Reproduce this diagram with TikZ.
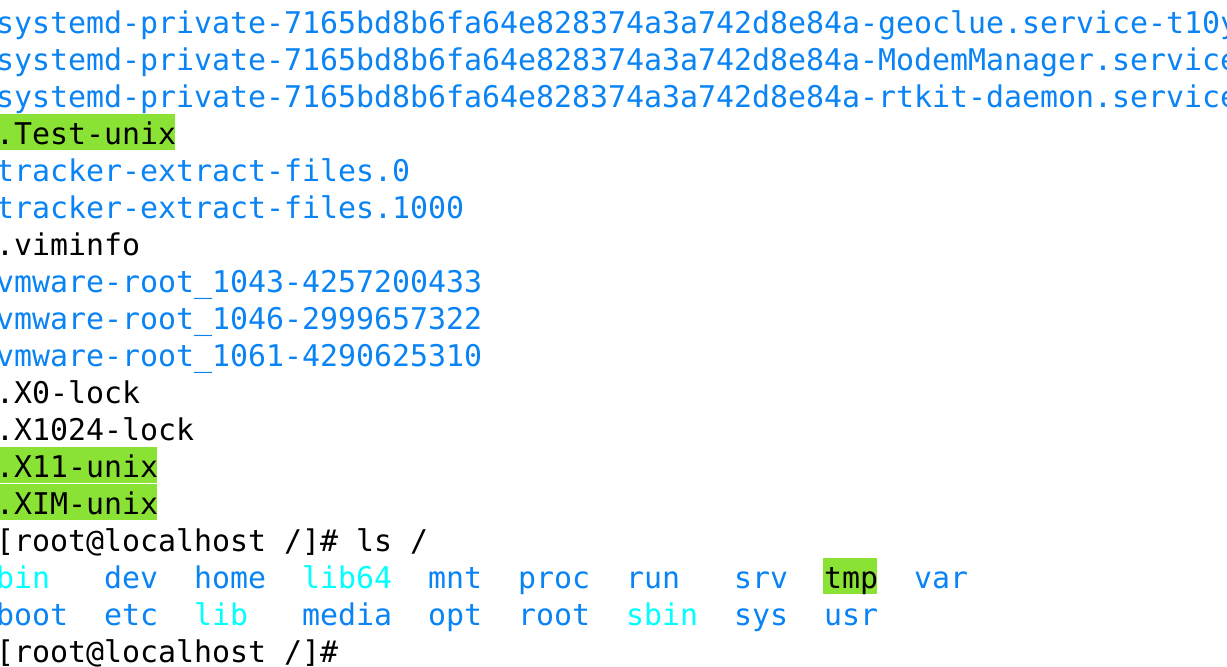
\documentclass[tikz,border=0pt]{standalone}
\usepackage{fontspec}
\setmonofont{DejaVu Sans Mono}
\definecolor{dirblue}{HTML}{0A84F5}
\definecolor{linkcyan}{HTML}{00FFFF}
\definecolor{hlgreen}{HTML}{8AE234}
\newcommand{\chw}{18}
\begin{document}
\begin{tikzpicture}[x=1pt,y=1pt,
    term/.style={anchor=base west, inner sep=0pt, font=\ttfamily\fontsize{29.9}{37}\selectfont},
    hl/.style={fill=hlgreen, draw=none}]
  \useasboundingbox (0,0) rectangle (1227,-667);
  \clip (0,0) rectangle (1227,-667);
  \fill[white] (0,0) rectangle (1227,-667);
  % highlights
  \fill[hl] (0,-114) rectangle (175,-150);
  \fill[hl] (0,-447) rectangle (157,-483);
  \fill[hl] (0,-484) rectangle (157,-520);
  \fill[hl] (823,-558) rectangle (877,-594);
  % listing of /tmp
  \foreach \txt/\col [count=\i from 0] in {
      systemd-private-7165bd8b6fa64e828374a3a742d8e84a-geoclue.service-t10y/dirblue,
      systemd-private-7165bd8b6fa64e828374a3a742d8e84a-ModemManager.service/dirblue,
      systemd-private-7165bd8b6fa64e828374a3a742d8e84a-rtkit-daemon.service/dirblue,
      .Test-unix/black,
      tracker-extract-files.0/dirblue,
      tracker-extract-files.1000/dirblue,
      .viminfo/black,
      vmware-root\_1043-4257200433/dirblue,
      vmware-root\_1046-2999657322/dirblue,
      vmware-root\_1061-4290625310/dirblue,
      .X0-lock/black,
      .X1024-lock/black,
      .X11-unix/black,
      .XIM-unix/black,
      {[root@localhost /]\# ls /}/black}
    \node[term, text=\col] (line\i) at (-4,-33-37*\i) {\txt};
  % ls / output
  \foreach \txt/\c/\col in {bin/0/linkcyan, dev/6/dirblue, home/11/dirblue,
      lib64/17/linkcyan, mnt/24/dirblue, proc/29/dirblue, run/35/dirblue,
      srv/41/dirblue, tmp/46/black, var/51/dirblue}
    \node[term, text=\col] (a-\txt) at (-4+\chw*\c,-588) {\txt};
  \foreach \txt/\c/\col in {boot/0/dirblue, etc/6/dirblue, lib/11/linkcyan,
      media/17/dirblue, opt/24/dirblue, root/29/dirblue, sbin/35/linkcyan,
      sys/41/dirblue, usr/46/dirblue}
    \node[term, text=\col] (b-\txt) at (-4+\chw*\c,-625) {\txt};
  \node[term] (prompt) at (-4,-662) {[root@localhost /]\#};
\end{tikzpicture}
\end{document}
